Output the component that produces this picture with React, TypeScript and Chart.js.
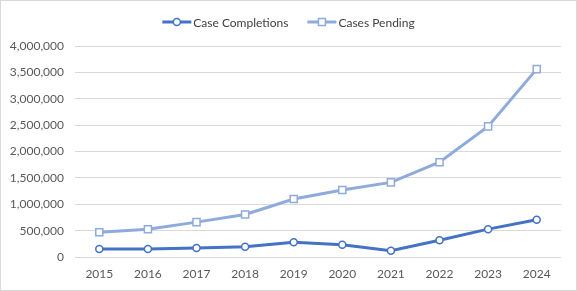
import React, { useEffect, useRef } from "react";
import { Chart, registerables } from "chart.js";

Chart.register(...registerables);

const years = ["2015", "2016", "2017", "2018", "2019", "2020", "2021", "2022", "2023", "2024"];
const caseCompletions = [152000, 150000, 171000, 196000, 280000, 234000, 120000, 318000, 528000, 705000];
const casesPending = [470000, 527000, 661000, 806000, 1099000, 1270000, 1415000, 1796000, 2476000, 3562000];
const seriesNames = ["Case Completions", "Cases Pending"];
const seriesColors = ["#4472C4", "#8FAADC"];
const FONT = "Lato, 'Liberation Sans', sans-serif";

const customLegend = {
  id: "customLegend",
  afterDraw(chart: any) {
    const ctx = chart.ctx;
    ctx.save();
    ctx.strokeStyle = "#d9d9d9";
    ctx.lineWidth = 1;
    ctx.strokeRect(0.5, 0.5, chart.width - 1, chart.height - 1);
    ctx.font = `12px ${FONT}`;
    ctx.textBaseline = "middle";
    ctx.textAlign = "left";
    const y = 22;
    const gap = 19;
    const lineW = 29;
    const widths = seriesNames.map((n) => ctx.measureText(n).width);
    const total = widths.reduce((a, w) => a + lineW + 2 + w, 0) + gap;
    let x = (chart.width - total) / 2;
    seriesNames.forEach((name, i) => {
      const c = seriesColors[i];
      ctx.strokeStyle = c;
      ctx.lineWidth = 3;
      ctx.beginPath();
      ctx.moveTo(x, y);
      ctx.lineTo(x + lineW, y);
      ctx.stroke();
      ctx.fillStyle = "#ffffff";
      ctx.lineWidth = 1.5;
      ctx.beginPath();
      if (i === 0) {
        ctx.arc(x + lineW / 2, y, 3.5, 0, Math.PI * 2);
      } else {
        ctx.rect(x + lineW / 2 - 3.5, y - 3.5, 7, 7);
      }
      ctx.fill();
      ctx.stroke();
      ctx.fillStyle = "#404040";
      ctx.fillText(name, x + lineW + 2, y + 1);
      x += lineW + 2 + widths[i] + gap;
    });
    ctx.restore();
  },
};

export default function App() {
  const ref = useRef<HTMLCanvasElement>(null);
  useEffect(() => {
    document.body.style.margin = "0";
    const chart = new Chart(ref.current!, {
      type: "line",
      data: {
        labels: years,
        datasets: [
          {
            label: seriesNames[0],
            data: caseCompletions,
            borderColor: seriesColors[0],
            backgroundColor: "#ffffff",
            borderWidth: 3,
            pointStyle: "circle",
            pointRadius: 3.5,
            pointBorderWidth: 1.5,
            pointBackgroundColor: "#ffffff",
            pointBorderColor: seriesColors[0],
            tension: 0,
          },
          {
            label: seriesNames[1],
            data: casesPending,
            borderColor: seriesColors[1],
            backgroundColor: "#ffffff",
            borderWidth: 3,
            pointStyle: "rect",
            pointRadius: 5,
            pointBorderWidth: 1.5,
            pointBackgroundColor: "#ffffff",
            pointBorderColor: seriesColors[1],
            tension: 0,
          },
        ],
      },
      options: {
        animation: false,
        responsive: false,
        maintainAspectRatio: false,
        layout: { padding: { top: 46, right: 16, bottom: 0, left: 0 } },
        plugins: { legend: { display: false }, tooltip: { enabled: false } },
        scales: {
          x: {
            offset: true,
            grid: { display: false, drawTicks: false, offset: true },
            border: { display: false },
            ticks: { color: "#595959", font: { family: FONT, size: 12 }, padding: 10, maxRotation: 0 },
            afterFit: (s: any) => { s.height = 34; },
          },
          y: {
            min: 0,
            max: 4000000,
            grid: { color: "#d9d9d9", drawTicks: false, lineWidth: 1 },
            border: { display: false },
            ticks: {
              stepSize: 500000,
              color: "#595959",
              font: { family: FONT, size: 12 },
              padding: 11,
              callback: (v: any) => Number(v).toLocaleString("en-US"),
            },
            afterFit: (s: any) => { s.width = 75; },
          },
        },
      },
      plugins: [customLegend],
    });
    return () => chart.destroy();
  }, []);
  return <canvas ref={ref} width={577} height={291} style={{ display: "block" }} />;
}
